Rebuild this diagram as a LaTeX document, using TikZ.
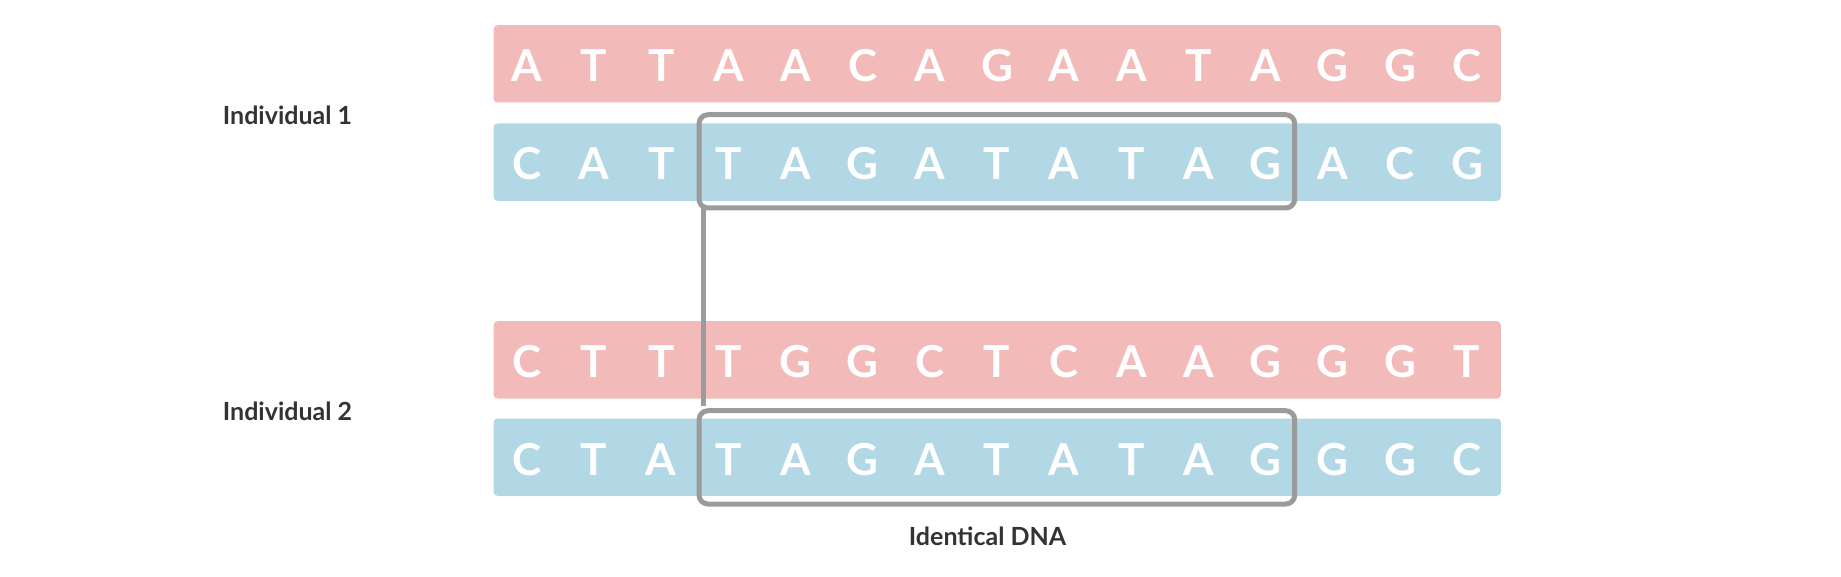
\documentclass[tikz,border=0pt]{standalone}
\usepackage{fontspec}
\setmainfont{Lato}
\definecolor{pinkbar}{HTML}{F2BBBA}
\definecolor{bluebar}{HTML}{B3D8E5}
\definecolor{boxgray}{HTML}{9B9B9B}
\definecolor{labeltext}{HTML}{333333}
\tikzset{
  bar/.style={draw=none, rounded corners=4pt, minimum width=1007.4pt, minimum height=77.3pt, anchor=north west, inner sep=0pt},
  base/.style={anchor=base, inner sep=0pt, text=white, font=\fontsize{44}{44}\selectfont\bfseries},
  label/.style={anchor=base west, inner sep=0pt, text=labeltext, font=\fontsize{25}{25}\selectfont\bfseries},
  idbox/.style={draw=boxgray, line width=5pt, rounded corners=9pt, minimum width=595.7pt, anchor=north west, inner sep=0pt, outer sep=0pt},
  conn/.style={draw=boxgray, line width=5pt}
}
\begin{document}
\begin{tikzpicture}[x=1pt,y=-1pt]
\useasboundingbox (0,0) rectangle (1841,577);
\fill[white] (0,0) rectangle (1841,577);
% bars
\node[bar, fill=pinkbar] (r1) at (493.3,25) {};
\node[bar, fill=bluebar] (r2) at (493.3,123.3) {};
\node[bar, fill=pinkbar] (r3) at (493.3,321) {};
\node[bar, fill=bluebar] (r4) at (493.3,418.3) {};
% letters
\foreach \l [count=\i from 0] in {A,T,T,A,A,C,A,G,A,A,T,A,G,G,C}
  \node[base] (a\i) at ({493.3+67.16*\i+33.58},81.7) {\l};
\foreach \l [count=\i from 0] in {C,A,T,T,A,G,A,T,A,T,A,G,A,C,G}
  \node[base] (b\i) at ({493.3+67.16*\i+33.58},180) {\l};
\foreach \l [count=\i from 0] in {C,T,T,T,G,G,C,T,C,A,A,G,G,G,T}
  \node[base] (c\i) at ({493.3+67.16*\i+33.58},377.7) {\l};
\foreach \l [count=\i from 0] in {C,T,A,T,A,G,A,T,A,T,A,G,G,G,C}
  \node[base] (d\i) at ({493.3+67.16*\i+33.58},475) {\l};
% identical boxes
\node[idbox, minimum height=93.3pt] (box1) at (699,114.7) {};
\node[idbox, minimum height=93.3pt] (box2) at (699,410.7) {};
\draw[conn] ([xshift=4.7pt]box1.south west) -- ([xshift=4.7pt,yshift=5pt]box2.north west);
% labels
\node[label] (ind1) at (222.7,124.3) {Individual 1};
\node[label] (ind2) at (222.7,420.3) {Individual 2};
\node[label, anchor=base] (ident) at (987.5,545.7) {Identical DNA};
\end{tikzpicture}
\end{document}
